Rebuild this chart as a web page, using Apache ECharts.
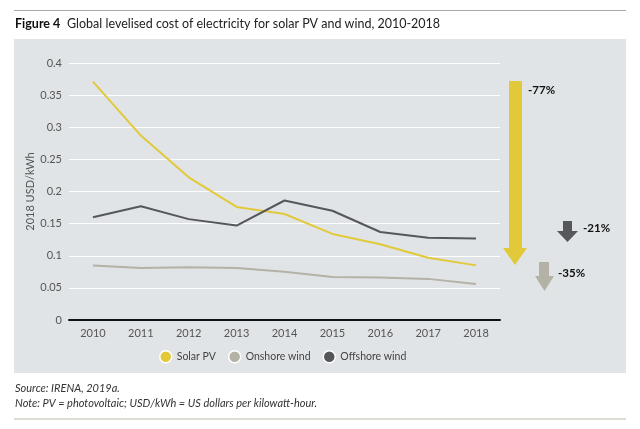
<!DOCTYPE html>
<html>
<head>
<meta charset="utf-8">
<script src="https://cdn.jsdelivr.net/npm/echarts@6/dist/echarts.min.js"></script>
<style>
  html, body { margin: 0; padding: 0; background: #fff; }
  #chart { width: 640px; height: 429px; }
</style>
</head>
<body>
<div id="chart"></div>
<script>
// data
var years = ['2010', '2011', '2012', '2013', '2014', '2015', '2016', '2017', '2018']
var solarPV = [0.371, 0.287, 0.222, 0.176, 0.165, 0.134, 0.118, 0.097, 0.085]
var onshoreWind = [0.085, 0.081, 0.082, 0.081, 0.075, 0.067, 0.066, 0.064, 0.056]
var offshoreWind = [0.160, 0.177, 0.157, 0.147, 0.186, 0.170, 0.137, 0.128, 0.127]
var yTicks = ['0', '0.05', '0.1', '0.15', '0.2', '0.25', '0.3', '0.35', '0.4']
var changeLabels = ['-77%', '-21%', '-35%']

var cSolar = '#e2c93a'
var cOnshore = '#b4b2a7'
var cOffshore = '#55575b'
var font = 'Lato, "Open Sans", sans-serif'

// down arrow polygon: shaft x0..x1 from top to headY, head hx0..hx1 to tip
function arrow (x0, x1, top, hx0, hx1, headY, tip, color) {
  return {
    type: 'polygon',
    shape: {
      points: [[x0, top], [x1, top], [x1, headY], [hx1, headY], [(hx0 + hx1) / 2, tip],
        [hx0, headY], [x0, headY]]
    },
    style: { fill: color },
    z: 10
  }
}

var chart = echarts.init(document.getElementById('chart'))
chart.setOption({
  backgroundColor: '#fff',
  textStyle: { fontFamily: font },
  graphic: [
    { type: 'rect', shape: { x: 14, y: 10, width: 612, height: 1 }, style: { fill: '#a9aaa6' }, z: -10 },
    { type: 'rect', shape: { x: 14, y: 39, width: 612, height: 334 }, style: { fill: '#e1e4e6' }, z: -10 },
    { type: 'rect', shape: { x: 14, y: 418, width: 612, height: 2 }, style: { fill: '#dcddd3' }, z: -10 },
    {
      type: 'text', left: 15, top: 17,
      style: { rich: {
        b: { fontWeight: 'bold', fontSize: 12.5, fill: '#111', fontFamily: font },
        n: { fontSize: 12.5, fill: '#222', fontFamily: font }
      }, text: '{b|Figure 4}  {n|Global levelised cost of electricity for solar PV and wind, 2010-2018}' }
    },
    {
      type: 'text', left: 15, top: 383,
      style: { text: 'Source: IRENA, 2019a.', fontStyle: 'italic', fontSize: 11, fill: '#333', fontFamily: font }
    },
    {
      type: 'text', left: 15, top: 398,
      style: { text: 'Note: PV = photovoltaic; USD/kWh = US dollars per kilowatt-hour.', fontStyle: 'italic', fontSize: 11, fill: '#333', fontFamily: font }
    },
    arrow(509, 522, 81, 503, 527, 248, 265, cSolar),
    arrow(563, 572, 221, 557, 578, 231, 242, cOffshore),
    arrow(539, 549, 262, 535, 554, 276, 291, cOnshore),
    { type: 'text', left: 528, top: 84, style: { text: changeLabels[0], fontSize: 11.5, fontWeight: 'bold', fill: '#111', fontFamily: font }, z: 10 },
    { type: 'text', left: 583, top: 222, style: { text: changeLabels[1], fontSize: 11.5, fontWeight: 'bold', fill: '#111', fontFamily: font }, z: 10 },
    { type: 'text', left: 558, top: 267, style: { text: changeLabels[2], fontSize: 11.5, fontWeight: 'bold', fill: '#111', fontFamily: font }, z: 10 }
  ],
  legend: {
    top: 345,
    left: 154,
    itemGap: 12,
    itemWidth: 12,
    itemHeight: 12,
    icon: 'circle',
    textStyle: { color: '#444', fontSize: 10.5, fontFamily: font },
    data: [
      { name: 'Solar PV', itemStyle: { color: cSolar, borderColor: '#fff', borderWidth: 1.5 } },
      { name: 'Onshore wind', itemStyle: { color: cOnshore, borderColor: '#fff', borderWidth: 1.5 } },
      { name: 'Offshore wind', itemStyle: { color: cOffshore, borderColor: '#fff', borderWidth: 1.5 } }
    ]
  },
  grid: { left: 69, right: 140, top: 63, bottom: 109, containLabel: false },
  xAxis: {
    type: 'category',
    data: years,
    boundaryGap: true,
    axisLine: { lineStyle: { color: '#111', width: 2 } },
    axisTick: { show: false },
    axisLabel: { color: '#555', fontSize: 11, margin: 8 }
  },
  yAxis: {
    type: 'value',
    min: 0,
    max: 0.4,
    interval: 0.05,
    name: '2018 USD/kWh',
    nameLocation: 'middle',
    nameGap: 33,
    nameMoveOverlap: false,
    nameTextStyle: { color: '#555', fontSize: 11 },
    axisLine: { show: false },
    axisTick: { show: false },
    axisLabel: {
      color: '#555', fontSize: 11, margin: 7,
      formatter: function (v) { return yTicks[Math.round(v / 0.05)] }
    },
    splitLine: { lineStyle: { color: '#fff', width: 1 } }
  },
  series: [
    { name: 'Solar PV', type: 'line', data: solarPV, symbol: 'none', lineStyle: { color: cSolar, width: 2 }, itemStyle: { color: cSolar } },
    { name: 'Onshore wind', type: 'line', data: onshoreWind, symbol: 'none', lineStyle: { color: cOnshore, width: 2 }, itemStyle: { color: cOnshore } },
    { name: 'Offshore wind', type: 'line', data: offshoreWind, symbol: 'none', lineStyle: { color: cOffshore, width: 2 }, itemStyle: { color: cOffshore } }
  ]
})
</script>
</body>
</html>
